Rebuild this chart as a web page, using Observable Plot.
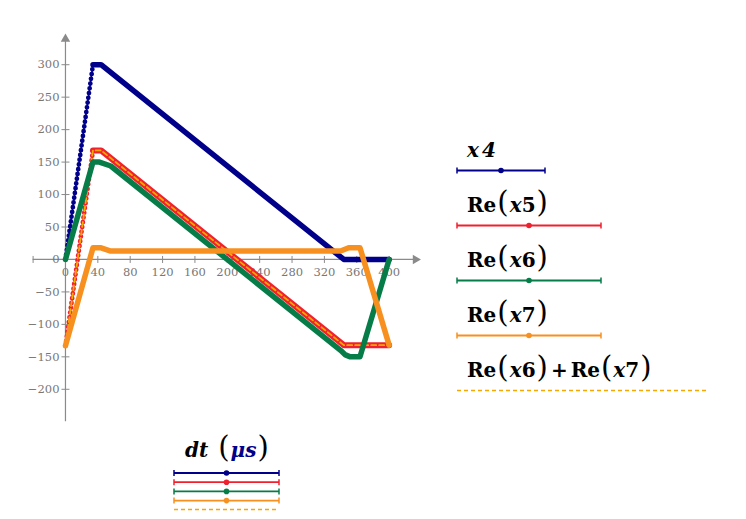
<!DOCTYPE html>
<html><head><meta charset="utf-8">
<script src="https://cdn.jsdelivr.net/npm/d3@7"></script>
<script src="https://cdn.jsdelivr.net/npm/@observablehq/plot@0.6"></script>
<style>
body{margin:0;background:#fff;}
#wrap{position:relative;width:746px;height:519px;overflow:hidden;}
#wrap svg{position:absolute;left:0;top:0;}
</style></head>
<body><div id="wrap"></div>
<script>
// ---- data ----
const t4 = [0, 34, 44, 344, 400];
const x4 = [0, 300, 300, 0, 0];
const t5 = [0, 34, 44, 344, 400];
const x5 = [-133, 168, 168, -132, -132];
const t6 = [0, 34, 42, 56, 340, 346, 352, 364, 400];
const x6 = [0, 150, 150, 144, -140, -147, -150, -150, 0];
const t7 = [0, 34, 44, 56, 340, 350, 364, 400];
const x7 = [-133, 18, 18, 13, 13, 18, 18, -132];
const tSum = [0, 34, 44, 344, 400];
const xSum = [-133, 168, 168, -132, -132];

const xTicks = [-40, 0, 40, 80, 120, 160, 200, 240, 280, 320, 360, 400];
const xLabels = [0, 40, 80, 120, 160, 200, 240, 280, 320, 360, 400];
const yTicks = [300, 250, 200, 150, 100, 50, 0, -50, -100, -150, -200];

const C4 = "#00008b", C5 = "#f0202e", C6 = "#067d48", C7 = "#f7901e", CS = "#f5a800";
const AX = "#8a8a8a", LBL = "#777";

const rows = (ts, vs) => ts.map((t, i) => ({t, v: vs[i]}));
const r4 = rows(t4, x4), r5 = rows(t5, x5), r6 = rows(t6, x6), r7 = rows(t7, x7), rS = rows(tSum, xSum);

const vTick = {draw(ctx) { ctx.moveTo(0, -3.5); ctx.lineTo(0, 3.5); }};
const hTick = {draw(ctx) { ctx.moveTo(-4, 0); ctx.lineTo(4, 0); }};
const fmt = d => (d < 0 ? "\u2212" + Math.abs(d) : String(d));
const L = {x: "t", y: "v", strokeLinejoin: "round", strokeLinecap: "round"};

const plot = Plot.plot({
  width: 746, height: 519,
  marginLeft: 32.6, marginRight: 325, marginTop: 35, marginBottom: 97.75,
  x: {domain: [-40, 440], axis: null},
  y: {domain: [-250, 345], axis: null},
  marks: [
    Plot.ruleY([0], {x1: -40, x2: 432, stroke: AX, strokeWidth: 1.2}),
    Plot.ruleX([0], {y1: -250, y2: 338, stroke: AX, strokeWidth: 1.2}),
    Plot.dot([432.6], {x: d => d, y: 0, symbol: "triangle", rotate: 90, r: 3.5, fill: AX, stroke: "none"}),
    Plot.dot([339.6], {x: 0, y: d => d, symbol: "triangle", r: 3.5, fill: AX, stroke: "none"}),
    Plot.dot(xTicks, {x: d => d, y: 0, symbol: vTick, fill: "none", stroke: AX, strokeWidth: 1}),
    Plot.dot(yTicks, {x: 0, y: d => d, symbol: hTick, fill: "none", stroke: AX, strokeWidth: 1}),
    Plot.text(xLabels, {x: d => d, y: 0, text: d => fmt(d), dy: 13, fill: LBL, fontFamily: "DejaVu Serif", fontSize: 11.5}),
    Plot.text(yTicks, {x: 0, y: d => d, text: d => fmt(d), dx: -6, textAnchor: "end", fill: LBL, fontFamily: "DejaVu Serif", fontSize: 11.5}),
    // x4
    Plot.line(r4.slice(0, 2), {...L, stroke: C4, strokeWidth: 1.6}),
    Plot.line(r4.slice(0, 2), {...L, stroke: C4, strokeWidth: 4.8, strokeDasharray: "0,4.8"}),
    Plot.line(r4.slice(1), {...L, stroke: C4, strokeWidth: 5.5}),
    // Re(x5)
    Plot.line(r5.slice(0, 2), {...L, stroke: C5, strokeWidth: 1.6}),
    Plot.line(r5.slice(0, 2), {...L, stroke: C5, strokeWidth: 4.8, strokeDasharray: "0,4.8"}),
    Plot.line(r5.slice(1), {...L, stroke: C5, strokeWidth: 6}),
    // Re(x6)+Re(x7)
    Plot.line(rS, {x: "t", y: "v", stroke: CS, strokeWidth: 1.8, strokeDasharray: "5,3"}),
    // Re(x6)
    Plot.line(r6, {...L, stroke: C6, strokeWidth: 5.5}),
    // Re(x7)
    Plot.line(r7, {...L, stroke: C7, strokeWidth: 5.5})
  ]
});
document.getElementById("wrap").appendChild(plot);

// ---- legends ----
const lg = d3.select("#wrap").append("svg").attr("width", 746).attr("height", 519);
function label(x, y, parts) {
  const t = lg.append("text").attr("x", x).attr("y", y)
    .attr("font-family", "DejaVu Serif").attr("font-size", 20).attr("font-weight", "bold").attr("fill", "#000");
  parts.forEach(([s, cls, dx, col]) => {
    const sp = t.append("tspan").text(s);
    if (cls === "it") sp.attr("font-style", "italic");
    if (cls === "par") sp.attr("font-size", 29).attr("font-weight", "normal");
    if (dx) sp.attr("dx", dx);
    if (col) sp.attr("fill", col);
  });
}
function swatch(x1, x2, y, col, dashed) {
  const g = lg.append("g").attr("stroke", col).attr("fill", col);
  if (dashed) {
    g.append("line").attr("x1", x1).attr("x2", x2).attr("y1", y).attr("y2", y).attr("stroke-width", 1.6).attr("stroke-dasharray", "4,3");
    return;
  }
  g.append("line").attr("x1", x1).attr("x2", x2).attr("y1", y).attr("y2", y).attr("stroke-width", 1.8);
  g.append("line").attr("x1", x1).attr("x2", x1).attr("y1", y - 3).attr("y2", y + 3).attr("stroke-width", 1.5);
  g.append("line").attr("x1", x2).attr("x2", x2).attr("y1", y - 3).attr("y2", y + 3).attr("stroke-width", 1.5);
  g.append("circle").attr("cx", (x1 + x2) / 2).attr("cy", y).attr("r", 2.8).attr("stroke", "none");
}
const reParts = n => [["Re"], ["(", "par", 1], ["x", "it", 1], [n], [")", "par", 1]];
const legendRight = [
  {parts: [["x", "it"], ["4", "it", 3]], y: 157, x2: 545, col: C4},
  {parts: reParts("5"), y: 212, x2: 601, col: C5},
  {parts: reParts("6"), y: 267, x2: 601, col: C6},
  {parts: reParts("7"), y: 322, x2: 601, col: C7},
  {parts: [...reParts("6"), ["+", null, 3], ["Re", null, 3], ["(", "par", 1], ["x", "it", 1], ["7"], [")", "par", 1]], y: 377, x2: 708, col: CS, dashed: true}
];
legendRight.forEach(e => {
  label(467, e.y, e.parts);
  swatch(457, e.x2, e.y + 13.5, e.col, e.dashed);
});
label(185, 457, [["dt", "it"], ["(", "par", 10], ["\u03bcs", "it", 1, "#00008b"], [")", "par", 1]]);
[C4, C5, C6, C7].forEach((c, i) => swatch(174, 279, 473 + i * 9.2, c, false));
swatch(174, 279, 509.5, CS, true);
</script>
</body></html>
